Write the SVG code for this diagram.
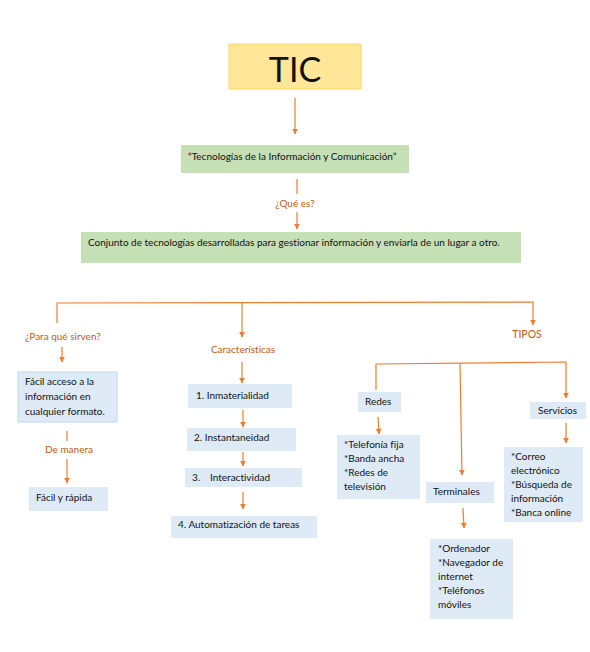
<svg xmlns="http://www.w3.org/2000/svg" width="590" height="652" viewBox="0 0 590 652">
<defs>
<style>
.t{font-family:Lato,"Open Sans","Liberation Sans",sans-serif;font-size:10px;fill:#111;font-variant-ligatures:none}
.o{font-family:Lato,"Open Sans","Liberation Sans",sans-serif;font-size:10px;fill:#C55A11;font-variant-ligatures:none}
.blue{fill:#DEEBF7}
.green{fill:#C5E0B4}
.c{stroke:#ED7D31;stroke-width:1.2;fill:none}
</style>
<marker id="ah" viewBox="0 0 10 10" refX="9" refY="5" markerWidth="6" markerHeight="6" markerUnits="userSpaceOnUse" orient="auto">
<path d="M0,0 L10,5 L0,10 z" fill="#ED7D31"/>
</marker>
</defs>
<rect width="590" height="652" fill="#fff"/>
<g id="connectors">
<line class="c" x1="295" y1="98" x2="295" y2="134" marker-end="url(#ah)"/>
<line class="c" x1="297" y1="179" x2="297" y2="194"/>
<line class="c" x1="297" y1="212" x2="297" y2="229" marker-end="url(#ah)"/>
<polyline class="c" points="57,323 57,303 533,302 533,325" marker-end="url(#ah)"/>
<line class="c" x1="242" y1="303" x2="242" y2="337" marker-end="url(#ah)"/>
<line class="c" x1="62" y1="347" x2="62" y2="362" marker-end="url(#ah)"/>
<line class="c" x1="67" y1="431" x2="67" y2="441"/>
<line class="c" x1="67" y1="459" x2="67" y2="483" marker-end="url(#ah)"/>
<line class="c" x1="242" y1="362" x2="242" y2="383" marker-end="url(#ah)"/>
<line class="c" x1="243" y1="410" x2="243" y2="427" marker-end="url(#ah)"/>
<line class="c" x1="243" y1="452" x2="243" y2="466" marker-end="url(#ah)"/>
<line class="c" x1="243" y1="492" x2="243" y2="509" marker-end="url(#ah)"/>
<polyline class="c" points="376,390 376,364 566,362 566,398" marker-end="url(#ah)"/>
<line class="c" x1="460" y1="363" x2="462" y2="475" marker-end="url(#ah)"/>
<line class="c" x1="378" y1="417" x2="379" y2="434" marker-end="url(#ah)"/>
<line class="c" x1="566" y1="423" x2="566" y2="443" marker-end="url(#ah)"/>
<line class="c" x1="463" y1="508" x2="464" y2="528" marker-end="url(#ah)"/>
</g>
<g id="tic">
<rect x="229" y="44" width="132" height="45" fill="#FFE699" stroke="#FFD966" stroke-width="1"/>
<text x="295" y="82" text-anchor="middle" style="font-family:Lato,'Open Sans','Liberation Sans',sans-serif;font-size:34px;fill:#111">TIC</text>
</g>
<g id="nombre">
<rect class="green" x="181" y="145" width="228" height="28"/>
<text class="t" x="188" y="160">“Tecnologías de la Información y Comunicación”</text>
</g>
<g id="que-es"><text class="o" x="295" y="207" text-anchor="middle">¿Qué es?</text></g>
<g id="definicion">
<rect class="green" x="81" y="232" width="440" height="31"/>
<text class="t" x="88" y="246">Conjunto de tecnologías desarrolladas para gestionar información y enviarla de un lugar a otro.</text>
</g>
<g id="para-que"><text class="o" x="25" y="340">¿Para qué sirven?</text></g>
<g id="caracteristicas"><text class="o" x="243" y="353" text-anchor="middle">Características</text></g>
<g id="tipos"><text class="o" x="527" y="338" text-anchor="middle" style="font-size:10.5px">TIPOS</text></g>
<g id="facil-acceso">
<rect class="blue" x="18" y="372" width="99" height="50" stroke="#BDD7EE" stroke-width="1"/>
<text class="t" x="25" y="385">Fácil acceso a la</text>
<text class="t" x="25" y="400">información en</text>
<text class="t" x="25" y="415">cualquier formato.</text>
</g>
<g id="de-manera"><text class="o" x="69" y="453" text-anchor="middle">De manera</text></g>
<g id="facil-rapida">
<rect class="blue" x="29" y="487" width="79" height="24"/>
<text class="t" x="36" y="501">Fácil y rápida</text>
</g>
<g id="c1"><rect class="blue" x="188" y="384" width="104" height="24"/><text class="t" x="196" y="399">1. Inmaterialidad</text></g>
<g id="c2"><rect class="blue" x="187" y="428" width="109" height="23"/><text class="t" x="194" y="441">2.  Instantaneidad</text></g>
<g id="c3"><rect class="blue" x="185" y="468" width="117" height="19"/><text class="t" x="192" y="481">3.</text><text class="t" x="210" y="481">Interactividad</text></g>
<g id="c4"><rect class="blue" x="171" y="516" width="146" height="22"/><text class="t" x="178" y="528">4.  Automatización de tareas</text></g>
<g id="redes"><rect class="blue" x="358" y="392" width="43" height="20"/><text class="t" x="365" y="405">Redes</text></g>
<g id="servicios"><rect class="blue" x="530" y="402" width="56" height="17"/><text class="t" x="538" y="414">Servicios</text></g>
<g id="terminales"><rect class="blue" x="426" y="482" width="68" height="21"/><text class="t" x="433" y="495">Terminales</text></g>
<g id="redes-items">
<rect class="blue" x="337" y="435" width="83" height="64"/>
<text class="t" x="344" y="448">*Telefonía fija</text>
<text class="t" x="344" y="462">*Banda ancha</text>
<text class="t" x="344" y="476">*Redes de</text>
<text class="t" x="344" y="490">televisión</text>
</g>
<g id="servicios-items">
<rect class="blue" x="504" y="447" width="79" height="75"/>
<text class="t" x="511" y="460">*Correo</text>
<text class="t" x="511" y="474">electrónico</text>
<text class="t" x="511" y="488">*Búsqueda de</text>
<text class="t" x="511" y="502">información</text>
<text class="t" x="511" y="516">*Banca online</text>
</g>
<g id="terminales-items">
<rect class="blue" x="430" y="539" width="83" height="80"/>
<text class="t" x="438" y="552">*Ordenador</text>
<text class="t" x="438" y="566">*Navegador de</text>
<text class="t" x="438" y="580">internet</text>
<text class="t" x="438" y="594">*Teléfonos</text>
<text class="t" x="438" y="608">móviles</text>
</g>
</svg>
